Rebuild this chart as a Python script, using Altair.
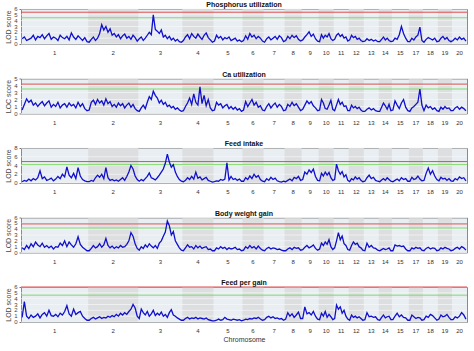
import altair as alt
import pandas as pd

chrom_names = ['1', '2', '3', '4', '5', '6', '7', '8', '9', '10', '11', '12',
               '13', '14', '15', '17', '18', '19', '20']
chrom_lengths = [67, 50, 44, 31, 29, 21, 21, 17, 17, 15, 15, 15, 15, 13, 17, 14, 15, 14, 15]

panel_titles = ['Phosphorus utilization', 'Ca utilization', 'Feed intake',
                'Body weight gain', 'Feed per gain']
y_titles = ['LOD score', 'LOC score', 'LOD score', 'LOD score', 'LOD score']
y_max = [6, 5, 8, 6, 6]
y_ticks = [[0, 1, 2, 3, 4, 5, 6], [0, 1, 2, 3, 4, 5], [0, 2, 4, 6, 8],
           [0, 1, 2, 3, 4, 5, 6], [0, 1, 2, 3, 4, 5, 6]]
red_threshold = [5.45, 4.2, 4.9, 4.9, 6.0]
green_threshold = [4.5, 3.5, 4.2, 4.2, 4.6]

phosphorus = [
    [0.9, 1.2, 0.6, 0.8, 1.0, 1.5, 0.7, 1.3, 1.1, 1.6, 0.9, 1.4, 1.8, 0.8, 1.2, 1.0, 0.6, 1.5, 1.1, 0.9, 1.3, 0.7, 1.9, 1.2, 0.8, 1.4, 1.0, 0.6, 1.1, 0.4],
    [0.3, 0.8, 1.2, 0.6, 1.0, 1.8, 3.3, 2.4, 3.0, 2.0, 2.6, 1.5, 1.8, 1.2, 1.6, 0.9, 1.4, 1.7, 1.0, 1.3, 0.8, 1.5, 1.1, 0.5],
    [0.9, 1.2, 0.6, 1.0, 1.5, 2.0, 1.6, 5.0, 2.5, 2.2, 1.8, 2.4, 1.2, 1.5, 0.9, 1.3, 0.7, 1.0, 0.5, 0.8, 0.4, 0.3],
    [0.6, 1.2, 1.6, 0.9, 1.8, 1.3, 1.0, 1.7, 1.2, 0.8, 1.5, 1.9, 1.1, 0.7, 0.3],
    [0.5, 1.5, 1.0, 1.3, 0.7, 1.1, 0.9, 1.2, 0.6, 0.8, 1.0, 0.5, 0.7, 0.4],
    [0.6, 1.4, 0.8, 1.8, 1.2, 1.5, 0.9, 1.3, 1.0, 0.5],
    [0.3, 0.9, 1.2, 0.7, 1.0, 1.3, 0.8, 1.4, 1.1, 0.4],
    [0.6, 1.3, 0.9, 1.5, 1.1, 1.4, 0.8, 0.5],
    [0.7, 1.2, 1.6, 2.1, 1.3, 1.7, 0.9, 0.5],
    [0.4, 1.6, 1.0, 1.5, 1.2, 1.8, 0.9, 0.6],
    [0.8, 1.5, 1.8, 1.3, 1.6, 1.0, 1.2, 0.5],
    [0.7, 1.5, 1.1, 1.3, 0.8, 1.0, 0.6, 0.4],
    [0.5, 0.9, 0.6, 0.8, 0.5, 0.7, 0.4],
    [0.4, 0.8, 1.2, 0.7, 1.0, 0.6, 0.4],
    [0.5, 1.0, 0.8, 1.6, 3.0, 1.8, 1.0, 0.4],
    [0.4, 1.0, 0.7, 1.2, 1.5, 2.9, 0.6],
    [0.3, 0.8, 1.1, 0.9, 0.7, 1.0, 0.4],
    [0.5, 1.0, 1.3, 0.8, 1.1, 0.6, 0.4],
    [0.6, 1.0, 0.7, 1.2, 0.8, 1.0, 0.5],
]

calcium = [
    [0.5, 1.3, 2.1, 1.6, 1.9, 1.2, 1.5, 1.0, 1.4, 1.7, 1.1, 1.5, 1.8, 0.9, 1.3, 1.0, 1.6, 0.8, 1.2, 1.4, 0.9, 1.5, 1.1, 1.3, 0.8, 1.6, 1.0, 1.4, 0.7, 0.4],
    [0.5, 1.6, 1.9, 1.3, 2.0, 1.5, 1.8, 1.2, 2.1, 1.4, 1.7, 1.0, 1.3, 0.9, 1.5, 1.1, 1.4, 0.8, 1.2, 1.5, 0.9, 1.3, 0.7, 0.4],
    [0.3, 0.8, 1.2, 0.7, 1.6, 2.4, 2.0, 3.2, 2.6, 2.2, 1.5, 1.9, 1.3, 1.6, 1.0, 1.2, 0.8, 1.0, 0.6, 0.8, 0.5, 0.3],
    [0.4, 1.0, 1.5, 2.2, 1.3, 2.8, 1.6, 1.2, 3.8, 1.4, 2.6, 1.1, 2.0, 0.8, 0.4],
    [0.5, 1.6, 1.2, 1.4, 0.8, 1.1, 1.3, 0.7, 1.0, 0.6, 0.9, 0.5, 0.7, 0.3],
    [0.5, 1.7, 1.0, 1.5, 2.0, 1.2, 1.6, 0.9, 1.1, 0.5],
    [0.4, 1.0, 1.4, 0.8, 1.2, 1.5, 0.9, 1.3, 1.0, 0.4],
    [0.5, 1.3, 1.0, 1.6, 1.1, 1.4, 0.9, 0.4],
    [0.6, 1.2, 1.8, 1.4, 1.7, 1.1, 0.8, 0.4],
    [0.5, 2.0, 1.5, 0.7, 0.6, 1.2, 1.9, 0.6],
    [0.4, 1.2, 2.0, 1.3, 1.6, 1.0, 1.1, 0.4],
    [0.4, 1.2, 0.8, 1.0, 0.7, 0.9, 0.5, 0.3],
    [0.3, 0.6, 0.8, 0.5, 0.7, 0.4, 0.3],
    [0.3, 0.9, 1.5, 1.1, 0.6, 1.3, 0.4],
    [0.5, 1.8, 1.2, 0.7, 1.5, 2.0, 0.9, 0.4],
    [0.3, 0.8, 1.0, 1.3, 1.6, 3.5, 1.2],
    [0.4, 1.2, 0.8, 1.0, 0.6, 0.8, 0.4],
    [0.3, 0.9, 0.6, 1.0, 0.7, 0.8, 0.4],
    [0.4, 0.8, 1.0, 0.6, 0.9, 0.7, 0.4],
]

feed_intake = [
    [0.3, 0.6, 0.4, 0.9, 0.5, 1.0, 0.7, 1.2, 2.8, 1.0, 1.4, 0.6, 0.8, 1.1, 0.5, 0.9, 1.5, 1.0, 2.0, 1.4, 3.7, 1.8, 1.2, 2.2, 1.0, 3.5, 1.6, 0.8, 0.5, 0.3],
    [0.3, 0.6, 0.4, 1.2, 1.8, 1.3, 2.0, 1.0, 3.5, 1.2, 0.6, 0.8, 0.5, 0.7, 0.4, 0.8, 1.2, 0.6, 1.5, 2.5, 4.0, 3.2, 1.6, 0.8],
    [0.4, 0.8, 0.5, 1.0, 1.5, 2.3, 1.2, 1.0, 0.7, 1.2, 1.8, 2.5, 3.2, 4.5, 6.6, 4.8, 3.6, 4.2, 2.5, 1.5, 0.8, 0.4],
    [0.3, 0.6, 1.2, 0.8, 1.5, 0.9, 2.5, 1.1, 1.4, 0.7, 1.0, 1.3, 0.6, 0.4, 0.2],
    [0.3, 0.5, 0.4, 0.8, 0.6, 0.9, 4.6, 0.7, 1.5, 0.8, 1.0, 0.6, 0.9, 0.4],
    [0.4, 1.2, 0.8, 1.6, 1.0, 2.0, 1.3, 1.7, 0.8, 0.4],
    [0.3, 1.0, 0.6, 1.3, 0.8, 1.1, 0.5, 0.3, 0.2, 0.4],
    [0.3, 0.6, 0.9, 0.5, 1.3, 1.0, 1.5, 0.6],
    [0.8, 2.5, 2.0, 3.0, 2.4, 3.2, 1.5, 0.6],
    [0.5, 2.2, 1.6, 2.5, 1.8, 2.4, 1.2, 0.6],
    [0.8, 4.3, 2.8, 2.0, 2.6, 1.4, 1.9, 0.6],
    [0.3, 1.0, 0.7, 1.4, 0.9, 1.2, 0.6, 0.3],
    [0.4, 1.2, 1.8, 1.0, 1.3, 0.6, 0.4],
    [0.3, 0.7, 1.0, 0.6, 1.2, 0.8, 0.4],
    [0.3, 0.6, 0.9, 0.5, 1.2, 0.8, 1.0, 0.4],
    [0.4, 1.3, 0.8, 1.0, 1.6, 0.9, 0.5],
    [0.6, 2.2, 3.4, 2.0, 2.8, 1.6, 0.8],
    [0.5, 1.3, 0.9, 1.1, 0.6, 1.0, 0.5],
    [0.4, 1.0, 0.7, 1.4, 1.0, 1.2, 0.5],
]

body_weight_gain = [
    [0.8, 0.5, 1.2, 0.7, 1.5, 1.0, 1.8, 1.3, 1.0, 1.6, 0.9, 1.2, 0.8, 1.1, 0.6, 1.0, 0.9, 1.6, 1.2, 2.0, 1.0, 1.8, 1.3, 0.9, 1.5, 2.7, 1.4, 0.9, 0.6, 0.3],
    [0.3, 0.7, 1.2, 0.8, 1.0, 1.5, 0.9, 1.3, 2.4, 1.2, 0.8, 1.1, 0.7, 1.0, 0.8, 1.2, 0.9, 1.0, 1.4, 2.0, 3.4, 2.8, 1.5, 0.7],
    [0.4, 1.0, 0.7, 1.3, 0.9, 1.5, 1.1, 0.8, 1.2, 0.7, 1.6, 2.0, 2.8, 3.5, 5.4, 4.6, 3.0, 3.6, 2.0, 1.4, 0.8, 0.4],
    [0.3, 0.8, 1.3, 0.9, 1.0, 0.6, 1.2, 0.8, 1.1, 0.7, 0.9, 1.0, 0.5, 0.6, 0.3],
    [0.3, 0.8, 0.6, 1.0, 0.7, 0.9, 0.5, 0.8, 0.6, 0.7, 0.9, 0.5, 0.6, 0.3],
    [0.4, 1.0, 0.7, 1.2, 0.8, 1.0, 0.6, 1.1, 0.7, 0.4],
    [0.3, 0.7, 0.9, 0.6, 0.8, 0.7, 0.5, 0.6, 0.4, 0.3],
    [0.3, 0.6, 0.8, 0.5, 0.9, 0.7, 0.8, 0.4],
    [0.5, 0.9, 1.2, 0.8, 1.0, 1.3, 0.7, 0.4],
    [0.6, 1.6, 1.2, 1.8, 1.4, 2.2, 1.0, 0.5],
    [0.8, 2.0, 3.4, 2.2, 2.8, 1.5, 1.2, 0.5],
    [0.4, 1.2, 1.8, 1.4, 1.6, 1.0, 0.8, 0.4],
    [0.3, 1.6, 0.9, 1.2, 0.8, 0.7, 0.4],
    [0.3, 0.5, 0.7, 0.5, 0.6, 0.8, 0.3],
    [0.3, 1.3, 1.1, 1.2, 1.0, 1.1, 0.6, 0.3],
    [0.3, 0.8, 0.6, 0.9, 0.7, 0.8, 0.4],
    [0.3, 0.7, 0.9, 0.6, 0.8, 0.7, 0.3],
    [0.4, 0.8, 0.6, 0.9, 0.7, 0.6, 0.3],
    [0.4, 0.7, 0.9, 0.6, 1.0, 0.8, 0.4],
]

feed_per_gain = [
    [0.8, 3.5, 1.0, 0.6, 1.2, 0.8, 1.0, 1.4, 0.7, 1.3, 1.6, 1.0, 2.0, 1.1, 1.0, 1.3, 0.9, 1.5, 1.2, 1.8, 2.8, 1.4, 1.0, 2.2, 1.3, 1.6, 1.8, 1.0, 0.6, 0.3],
    [0.3, 0.6, 0.8, 0.5, 0.7, 0.9, 0.6, 0.8, 0.7, 1.0, 0.8, 1.1, 0.9, 1.3, 1.0, 1.5, 1.2, 1.6, 1.3, 1.8, 2.2, 3.0, 2.4, 1.0],
    [0.6, 2.2, 1.6, 1.2, 1.8, 1.0, 1.4, 2.0, 1.1, 1.5, 1.2, 1.7, 1.0, 1.3, 0.8, 1.6, 2.1, 1.2, 1.0, 0.7, 0.5, 0.3],
    [0.3, 0.6, 0.8, 0.5, 0.7, 0.6, 0.8, 0.5, 0.7, 0.6, 0.5, 0.7, 0.4, 0.3, 0.2],
    [0.2, 0.3, 0.5, 0.3, 0.4, 0.8, 0.5, 0.4, 0.3, 0.5, 0.4, 0.3, 0.4, 0.2],
    [0.3, 0.5, 0.4, 0.6, 0.5, 0.7, 0.6, 0.8, 0.5, 0.3],
    [0.4, 0.8, 1.0, 0.7, 0.9, 0.6, 0.7, 0.5, 0.6, 0.3],
    [0.5, 1.6, 1.0, 1.4, 0.8, 1.2, 1.7, 0.6],
    [0.6, 2.6, 1.4, 1.6, 1.2, 1.8, 1.0, 0.5],
    [0.4, 1.5, 1.0, 1.8, 0.8, 1.3, 0.9, 0.4],
    [0.6, 2.9, 2.2, 2.6, 1.5, 2.0, 1.0, 0.5],
    [0.3, 1.2, 0.8, 1.0, 0.7, 0.9, 0.6, 0.3],
    [0.4, 1.6, 0.9, 1.0, 0.8, 0.9, 0.4],
    [0.3, 0.8, 1.2, 0.7, 0.9, 1.0, 0.4],
    [0.4, 1.0, 1.5, 0.9, 1.2, 0.8, 0.7, 0.3],
    [0.3, 1.2, 0.9, 0.6, 0.8, 0.7, 0.3],
    [0.4, 1.0, 0.8, 1.3, 1.1, 0.7, 0.3],
    [0.5, 1.2, 0.9, 1.0, 1.3, 0.8, 0.4],
    [0.4, 0.9, 0.7, 1.0, 1.6, 1.2, 0.5],
]

series = [phosphorus, calcium, feed_intake, body_weight_gain, feed_per_gain]

# chromosome extents
starts, centers = [], []
acc = 0
for L in chrom_lengths:
    starts.append(acc)
    centers.append(acc + L / 2)
    acc += L
total_len = acc

band_df = pd.DataFrame({
    'start': [s for i, s in enumerate(starts) if i % 2 == 1],
    'end': [s + chrom_lengths[i] for i, s in enumerate(starts) if i % 2 == 1],
})
chrom_df = pd.DataFrame({'center': centers, 'name': chrom_names})

W, H = 446, 35
FONT = 'Liberation Sans'


def line_frame(values):
    rows = []
    for name, s, L, vals in zip(chrom_names, starts, chrom_lengths, values):
        n = len(vals)
        for i, v in enumerate(vals):
            rows.append({'pos': s + L * (i + 0.5) / n, 'lod': v, 'chrom': name})
    return pd.DataFrame(rows)


def panel(k, last=False):
    ym = y_max[k]
    xscale = alt.Scale(domain=[0, total_len], nice=False, zero=False)
    yscale = alt.Scale(domain=[0, ym], nice=False)
    if last:
        xaxis = alt.Axis(labels=False, ticks=False, domain=False, grid=False,
                         title='Chromosome', titleFontSize=7, titleFontWeight='normal',
                         titleColor='#333', titlePadding=13, titleFont=FONT)
    else:
        xaxis = None
    yaxis = alt.Axis(values=y_ticks[k], labels=False, title=y_titles[k], titleFontSize=7,
                     titleFontWeight='normal', titleColor='#444', titlePadding=7,
                     tickSize=2, tickColor='#777', domain=False, grid=False,
                     titleFont=FONT)

    bands = alt.Chart(band_df).mark_rect(color='#d9d9d9', opacity=0.8).encode(
        x=alt.X('start:Q', scale=xscale, axis=xaxis),
        x2='end:Q',
        y=alt.datum(0, type='quantitative', scale=yscale, axis=yaxis),
        y2=alt.datum(ym),
    )
    tick_df = pd.DataFrame({'g': y_ticks[k]})
    grid = alt.Chart(tick_df).mark_rule(
        color='#f6f8fa', strokeWidth=0.7).encode(y=alt.Y('g:Q'))
    red = alt.Chart().mark_rule(color='#e05050', strokeWidth=1).encode(
        y=alt.datum(red_threshold[k]))
    green = alt.Chart().mark_rule(color='#7fdc6a', strokeWidth=1).encode(
        y=alt.datum(green_threshold[k]))
    line = alt.Chart(line_frame(series[k])).mark_line(
        color='#1010cc', strokeWidth=1.3).encode(
        x=alt.X('pos:Q'),
        y=alt.Y('lod:Q'),
        order='pos:Q',
    )
    xlabels = alt.Chart(chrom_df).mark_text(
        fontSize=6, font=FONT, color='#333', baseline='middle', align='center').encode(
        x=alt.X('center:Q'),
        y=alt.datum(-ym * 9.0 / H),
        text='name:N',
    )
    ylabels = alt.Chart(tick_df).mark_text(
        fontSize=6, font=FONT, color='#444', baseline='middle', align='right').encode(
        x=alt.datum(-3.5),
        y=alt.Y('g:Q'),
        text='g:Q',
    )
    return alt.layer(bands, grid, red, green, line, xlabels, ylabels).properties(
        width=W, height=H,
        title=alt.TitleParams(panel_titles[k], fontSize=7, fontWeight='bold',
                              font=FONT, color='#111', offset=-2, anchor='middle'),
    )


chart = alt.vconcat(*[panel(k, last=(k == 4)) for k in range(5)], spacing=12.5).properties(
    padding={'left': 4, 'top': 0, 'right': 4, 'bottom': 2},
    background='white',
).configure_view(
    stroke='#8a8a8a', strokeWidth=1, fill='#e9eef2'
)

chart.save('out.html', embed_options={'renderer': 'svg', 'actions': False})
